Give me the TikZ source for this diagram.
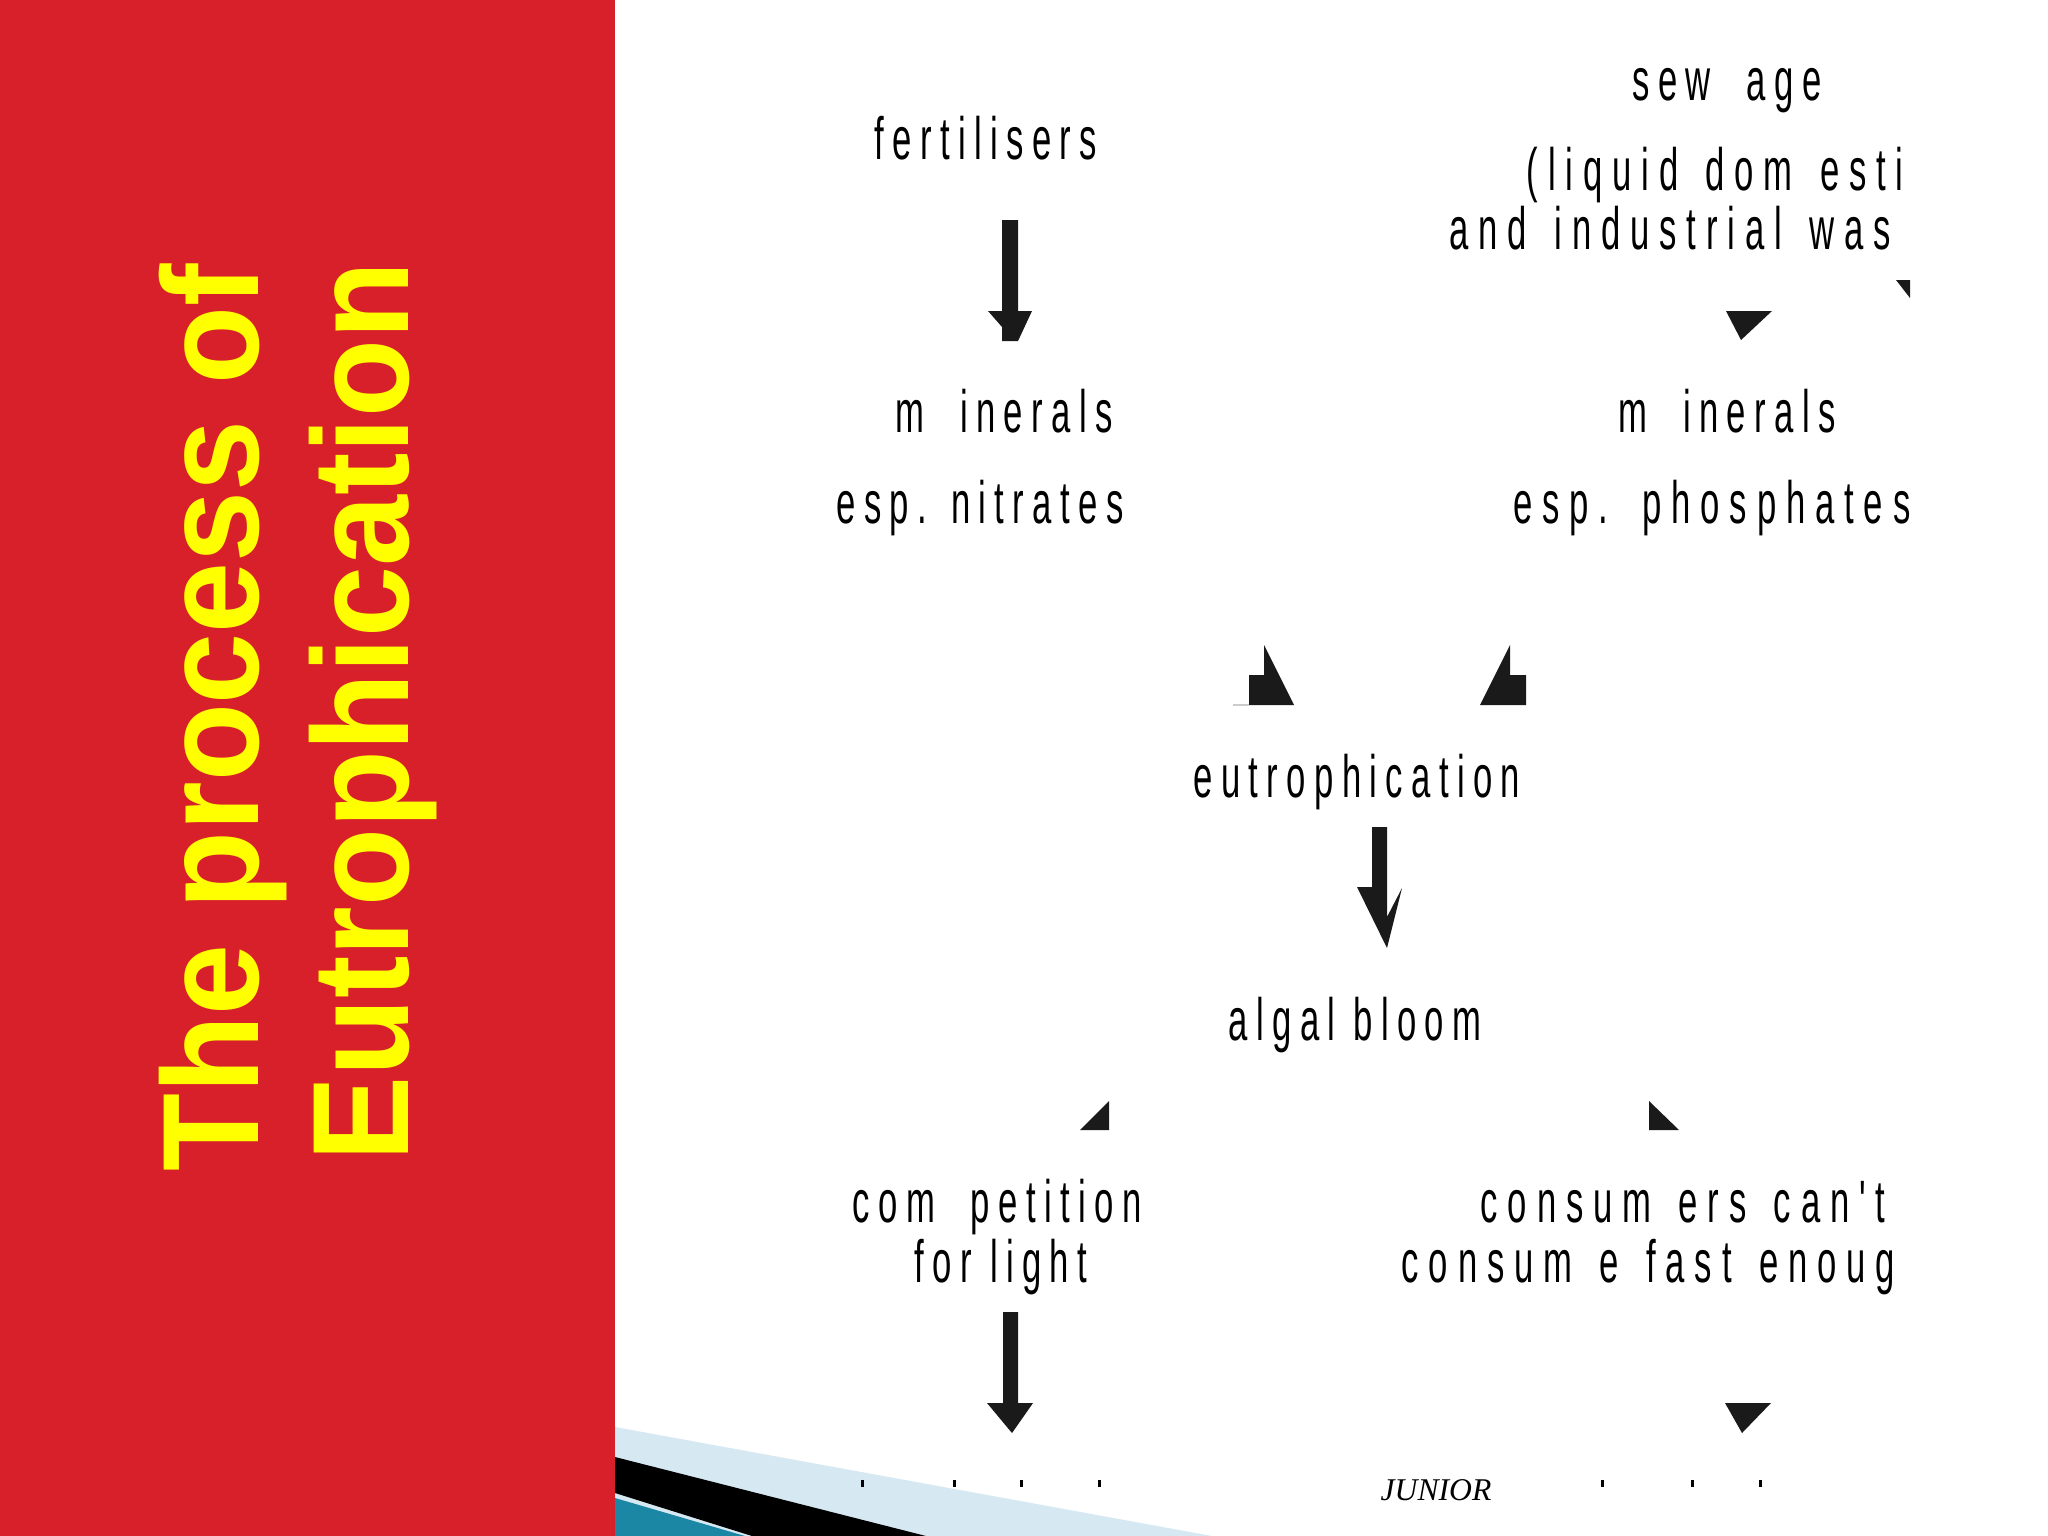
\documentclass[tikz,border=0pt]{standalone}
\usepackage{fontspec}
\usepackage{tikz}
\usetikzlibrary{positioning}
\newfontfamily\slidefont[FakeStretch=0.58,LetterSpace=14]{Liberation Sans}
\newfontfamily\slidewidefont[FakeStretch=0.58,LetterSpace=16.5,WordSpace=1.4]{Liberation Sans}
\newfontfamily\titlefont[FakeStretch=0.93]{Liberation Sans}
\newfontfamily\juniorfont{Liberation Serif}
\definecolor{SlideRed}{HTML}{D8202A}
\definecolor{SlideYellow}{HTML}{FFFF00}
\definecolor{StripeBlue}{HTML}{D6E8F2}
\definecolor{StripeTeal}{HTML}{1C86A5}
\definecolor{ArrowBlack}{HTML}{1A1A1A}

\begin{document}
\begin{tikzpicture}[x=0.01cm,y=-0.01cm,
    stage/.style={font={\slidefont\fontsize{17}{20}\selectfont},inner sep=0pt,anchor=base},
    stagewide/.style={font={\slidewidefont\fontsize{17}{20}\selectfont},inner sep=0pt,anchor=base},
    stageleft/.style={stagewide,anchor=base west},
    heading/.style={font={\titlefont\bfseries\fontsize{39}{47}\selectfont},text=SlideYellow,
      inner sep=0pt,anchor=base,rotate=90},
    arrowfill/.style={fill=ArrowBlack}]
        \useasboundingbox (0,0) rectangle (2048,1536);
        \fill[white] (0,0) rectangle (2048,1536);

        % Red side panel and title
        \fill[SlideRed] (0,0) rectangle (615,1536);
        \node[heading] (titleA) at (258,718) {The process of};
        \node[heading] (titleB) at (408,712) {Eutrophication};

        % Stripes in the lower corner
        \fill[StripeBlue] (615,1427) -- (1212,1536) -- (615,1536) -- cycle;
        \fill[black] (615,1457) -- (926,1536) -- (752,1536) -- (615,1493) -- cycle;
        \fill[StripeTeal] (615,1498) -- (745,1536) -- (615,1536) -- cycle;

        % Left column
        \node[stage] (fert) at (986,159) {fertilisers};
        \node[stage] (minL) at (1004,432) {m\ \ inerals};
        \node[stage] (nitr) at (980,523) {esp. nitrates};
        \node[stage] (comp) at (997,1222) {com\ \ petition};
        \node[stage] (light) at (1001,1282) {for light};

        % Right column
        \node[stage] (sew) at (1727,100) {sew\ \ age};
        \node[stage] (minR) at (1727,432) {m\ \ inerals};
        \node[stagewide] (phos) at (1712,523) {esp. phosphates};
        \begin{scope}
          \clip (0,0) rectangle (1912,1536);
          \node[stageleft] (liquid) at (1526,190) {(liquid dom esti};
          \node[stageleft] (waste) at (1449,249) {and industrial was};
          \node[stageleft] (cons) at (1480,1222) {consum ers can't};
          \node[stageleft] (fast) at (1401,1282) {consum e fast enoug};
          \fill[arrowfill] (1896,280) -- (1910,280) -- (1910,298) -- cycle;
        \end{scope}

        % Middle
        \node[stage] (eutro) at (1357,797) {eutrophication};
        \node[stage] (bloom) at (1355,1040) {algal bloom};
        \node[font={\juniorfont\itshape\fontsize{9}{11}\selectfont},inner sep=0pt,anchor=base]
          (junior) at (1436,1500) {JUNIOR};

        % Arrows
        \fill[arrowfill] (1002,220) -- (1018,220) -- (1018,311) -- (1032,311) -- (1018,341)
          -- (1002,341) -- (1002,327) -- (988,311) -- (1002,311) -- cycle;
        \fill[arrowfill] (1726,311) -- (1772,311) -- (1741,340) -- cycle;
        \draw[gray!40,line width=0.5pt] (1233,705) -- (1249,705);
        \fill[arrowfill] (1249,705) -- (1249,675) -- (1264,675) -- (1264,645) -- (1294,705) -- cycle;
        \fill[arrowfill] (1480,705) -- (1510,645) -- (1510,675) -- (1526,675) -- (1526,705) -- cycle;
        \fill[arrowfill] (1372,827) -- (1387,827) -- (1387,917) -- (1402,888) -- (1387,948)
          -- (1357,887) -- (1372,887) -- cycle;
        \fill[arrowfill] (1080,1130) -- (1109,1130) -- (1109,1101) -- cycle;
        \fill[arrowfill] (1649,1101) -- (1649,1130) -- (1679,1130) -- cycle;
        \fill[arrowfill] (1003,1312) -- (1018,1312) -- (1018,1403) -- (1033,1403) -- (1012,1433)
          -- (987,1403) -- (1003,1403) -- cycle;
        \fill[arrowfill] (1725,1403) -- (1771,1403) -- (1742,1433) -- cycle;

        % Dots along the bottom
        \foreach \dx in {862,954,1021,1099,1602,1692,1760}
          \fill[black] (\dx-1.5,1480) rectangle (\dx+1.5,1487);
      \end{tikzpicture}
\end{document}
